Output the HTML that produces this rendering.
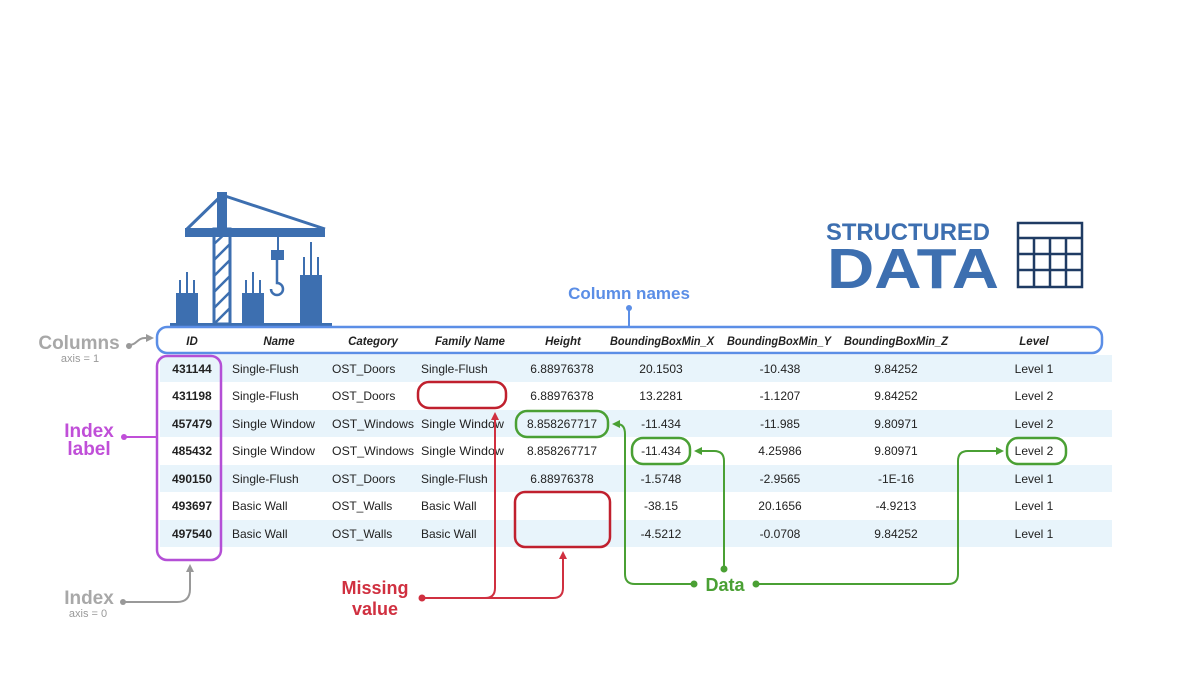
<!DOCTYPE html>
<html><head><meta charset="utf-8"><style>
html,body{margin:0;padding:0;background:#fff;}
svg{display:block;}
text{font-family:"Liberation Sans",sans-serif;}
</style></head><body>
<svg width="1200" height="675" viewBox="0 0 1200 675" xmlns="http://www.w3.org/2000/svg">
<defs>
<marker id="ag" markerWidth="8" markerHeight="8" refX="6" refY="4" orient="auto" markerUnits="userSpaceOnUse"><path d="M0,0 L8,4 L0,8 z" fill="#4aa034"/></marker>
<marker id="ar" markerWidth="8" markerHeight="8" refX="6" refY="4" orient="auto" markerUnits="userSpaceOnUse"><path d="M0,0 L8,4 L0,8 z" fill="#d03040"/></marker>
<marker id="ay" markerWidth="8" markerHeight="8" refX="6" refY="4" orient="auto" markerUnits="userSpaceOnUse"><path d="M0,0 L8,4 L0,8 z" fill="#999"/></marker>
</defs>
<!-- crane -->
<g fill="#3d6fb0" stroke="none">
<rect x="170" y="323" width="162" height="4"/>
<rect x="176" y="293" width="22" height="31"/>
<rect x="179" y="280" width="2" height="14"/><rect x="186" y="272" width="2" height="22"/><rect x="193" y="280" width="2" height="14"/>
<rect x="242" y="293" width="22" height="31"/>
<rect x="245" y="280" width="2" height="14"/><rect x="252" y="272" width="2" height="22"/><rect x="259" y="280" width="2" height="14"/>
<rect x="300" y="275" width="22" height="49"/>
<rect x="303" y="257" width="2" height="19"/><rect x="310" y="242" width="2" height="34"/><rect x="317" y="257" width="2" height="19"/>
<rect x="217" y="192" width="10" height="36"/>
<rect x="185" y="228" width="140" height="9"/>
<rect x="271" y="250" width="13" height="10"/>
<rect x="277" y="237" width="2" height="14"/>
</g>
<g fill="none" stroke="#3d6fb0">
<rect x="214" y="229" width="16" height="95" stroke-width="3"/>
<path d="M214,260 L230,244 M214,276 L230,260 M214,292 L230,276 M214,308 L230,292 M214,324 L230,308 M214,244 L230,229" stroke-width="2.5"/>
<path d="M222,195 L187,229 M222,195 L325,229" stroke-width="3"/>
<path d="M277,260 L277,283 A6,6 0 1 1 271,289" stroke-width="2.5"/>
</g>
<!-- structured data -->
<text x="826" y="240" font-size="24" font-weight="bold" fill="#3d6fb0" textLength="164" lengthAdjust="spacingAndGlyphs">STRUCTURED</text>
<text x="827" y="288" font-size="57" font-weight="bold" fill="#3d6fb0" textLength="172" lengthAdjust="spacingAndGlyphs">DATA</text>
<g fill="none" stroke="#1f3b63" stroke-width="2.5">
<rect x="1018" y="223" width="64" height="64"/>
<path d="M1018,238 H1082 M1018,254 H1082 M1018,270 H1082 M1034,238 V287 M1050,238 V287 M1066,238 V287"/>
</g>
<!-- rows -->
<g fill="#e8f4fb">
<rect x="160" y="355" width="952" height="27"/>
<rect x="160" y="410" width="952" height="27"/>
<rect x="160" y="465" width="952" height="27"/>
<rect x="160" y="520" width="952" height="27"/>
</g>
<!-- header -->
<rect x="157" y="327" width="945" height="26" rx="10" fill="#fff" stroke="#5b8ee6" stroke-width="2.5"/>
<g font-size="11.5" font-style="italic" font-weight="bold" fill="#222" text-anchor="middle">
<text x="192" y="345">ID</text><text x="279" y="345">Name</text><text x="373" y="345">Category</text><text x="470" y="345" textLength="70" lengthAdjust="spacingAndGlyphs">Family Name</text><text x="563" y="345">Height</text><text x="662" y="345" textLength="104" lengthAdjust="spacingAndGlyphs">BoundingBoxMin_X</text><text x="779" y="345" textLength="104" lengthAdjust="spacingAndGlyphs">BoundingBoxMin_Y</text><text x="896" y="345" textLength="104" lengthAdjust="spacingAndGlyphs">BoundingBoxMin_Z</text><text x="1034" y="345">Level</text>
</g>
<g font-size="12" fill="#222">
<g font-weight="bold" text-anchor="middle">
<text x="192" y="373">431144</text><text x="192" y="400">431198</text><text x="192" y="428">457479</text><text x="192" y="455">485432</text><text x="192" y="483">490150</text><text x="192" y="510">493697</text><text x="192" y="538">497540</text>
</g>
<text x="232" y="373">Single-Flush</text><text x="232" y="400">Single-Flush</text><text x="232" y="428" textLength="83" lengthAdjust="spacingAndGlyphs">Single Window</text><text x="232" y="455" textLength="83" lengthAdjust="spacingAndGlyphs">Single Window</text><text x="232" y="483">Single-Flush</text><text x="232" y="510">Basic Wall</text><text x="232" y="538">Basic Wall</text>
<text x="332" y="373">OST_Doors</text><text x="332" y="400">OST_Doors</text><text x="332" y="428" textLength="82" lengthAdjust="spacingAndGlyphs">OST_Windows</text><text x="332" y="455" textLength="82" lengthAdjust="spacingAndGlyphs">OST_Windows</text><text x="332" y="483">OST_Doors</text><text x="332" y="510">OST_Walls</text><text x="332" y="538">OST_Walls</text>
<text x="421" y="373">Single-Flush</text><text x="421" y="428" textLength="83" lengthAdjust="spacingAndGlyphs">Single Window</text><text x="421" y="455" textLength="83" lengthAdjust="spacingAndGlyphs">Single Window</text><text x="421" y="483">Single-Flush</text><text x="421" y="510">Basic Wall</text><text x="421" y="538">Basic Wall</text>
<g text-anchor="middle">
<text x="562" y="373">6.88976378</text><text x="562" y="400">6.88976378</text><text x="562" y="428">8.858267717</text><text x="562" y="455">8.858267717</text><text x="562" y="483">6.88976378</text>
<text x="661" y="373">20.1503</text><text x="661" y="400">13.2281</text><text x="661" y="428">-11.434</text><text x="661" y="455">-11.434</text><text x="661" y="483">-1.5748</text><text x="661" y="510">-38.15</text><text x="661" y="538">-4.5212</text>
<text x="780" y="373">-10.438</text><text x="780" y="400">-1.1207</text><text x="780" y="428">-11.985</text><text x="780" y="455">4.25986</text><text x="780" y="483">-2.9565</text><text x="780" y="510">20.1656</text><text x="780" y="538">-0.0708</text>
<text x="896" y="373">9.84252</text><text x="896" y="400">9.84252</text><text x="896" y="428">9.80971</text><text x="896" y="455">9.80971</text><text x="896" y="483">-1E-16</text><text x="896" y="510">-4.9213</text><text x="896" y="538">9.84252</text>
<text x="1034" y="373">Level 1</text><text x="1034" y="400">Level 2</text><text x="1034" y="428">Level 2</text><text x="1034" y="455">Level 2</text><text x="1034" y="483">Level 1</text><text x="1034" y="510">Level 1</text><text x="1034" y="538">Level 1</text>
</g></g>
<!-- index box -->
<rect x="157" y="356" width="64" height="204" rx="10" fill="none" stroke="#b44fd6" stroke-width="2.5"/>
<path d="M124,437 H157" stroke="#c04fd8" stroke-width="2"/><circle cx="124" cy="437" r="3" fill="#c04fd8"/>
<text x="89" y="437" font-size="19" font-weight="bold" fill="#c04fd8" text-anchor="middle">Index</text>
<text x="89" y="455" font-size="19" font-weight="bold" fill="#c04fd8" text-anchor="middle">label</text>
<!-- columns label -->
<text x="79" y="349" font-size="19" font-weight="bold" fill="#a8a8a8" text-anchor="middle">Columns</text>
<text x="80" y="362" font-size="11" fill="#999" text-anchor="middle">axis = 1</text>
<path d="M129,345 C137,345 137,338 145,338 L152,338" stroke="#999" stroke-width="2" fill="none" marker-end="url(#ay)"/><circle cx="129" cy="346" r="3" fill="#999"/>
<!-- index label -->
<text x="89" y="604" font-size="19" font-weight="bold" fill="#a8a8a8" text-anchor="middle">Index</text>
<text x="88" y="617" font-size="11" fill="#999" text-anchor="middle">axis = 0</text>
<path d="M123,602 H177 Q190,602 190,589 V566" stroke="#999" stroke-width="2" fill="none" marker-end="url(#ay)"/><circle cx="123" cy="602" r="3" fill="#999"/>
<!-- column names -->
<text x="629" y="299" font-size="17" font-weight="bold" fill="#5b8ee6" text-anchor="middle">Column names</text>
<path d="M629,308 V327" stroke="#5b8ee6" stroke-width="2"/><circle cx="629" cy="308" r="3" fill="#5b8ee6"/>
<!-- missing -->
<rect x="418" y="382" width="88" height="26" rx="11" fill="none" stroke="#c0202e" stroke-width="2.5"/>
<rect x="515" y="492" width="95" height="55" rx="10" fill="none" stroke="#c0202e" stroke-width="2.5"/>
<text x="375" y="594" font-size="18" font-weight="bold" fill="#d03040" text-anchor="middle">Missing</text>
<text x="375" y="615" font-size="18" font-weight="bold" fill="#d03040" text-anchor="middle">value</text>
<path d="M422,598 H485 Q495,598 495,588 V414" stroke="#d03040" stroke-width="2" fill="none" marker-end="url(#ar)"/>
<path d="M485,598 H553 Q563,598 563,588 V553" stroke="#d03040" stroke-width="2" fill="none" marker-end="url(#ar)"/>
<circle cx="422" cy="598" r="3.5" fill="#d03040"/>
<!-- data -->
<rect x="516" y="411" width="92" height="26" rx="11" fill="none" stroke="#4aa034" stroke-width="2.5"/>
<rect x="632" y="438" width="58" height="26" rx="11" fill="none" stroke="#4aa034" stroke-width="2.5"/>
<rect x="1007" y="438" width="59" height="26" rx="11" fill="none" stroke="#4aa034" stroke-width="2.5"/>
<text x="725" y="591" font-size="18" font-weight="bold" fill="#4aa034" text-anchor="middle">Data</text>
<path d="M694,584 H635 Q625,584 625,574 V434 Q625,424 617,424 L614,424" stroke="#4aa034" stroke-width="2" fill="none" marker-end="url(#ag)"/>
<path d="M724,569 V461 Q724,451 714,451 L696,451" stroke="#4aa034" stroke-width="2" fill="none" marker-end="url(#ag)"/>
<path d="M756,584 H948 Q958,584 958,574 V461 Q958,451 968,451 L1002,451" stroke="#4aa034" stroke-width="2" fill="none" marker-end="url(#ag)"/>
<circle cx="694" cy="584" r="3.5" fill="#4aa034"/><circle cx="756" cy="584" r="3.5" fill="#4aa034"/><circle cx="724" cy="569" r="3.5" fill="#4aa034"/>
</svg>
</body></html>
